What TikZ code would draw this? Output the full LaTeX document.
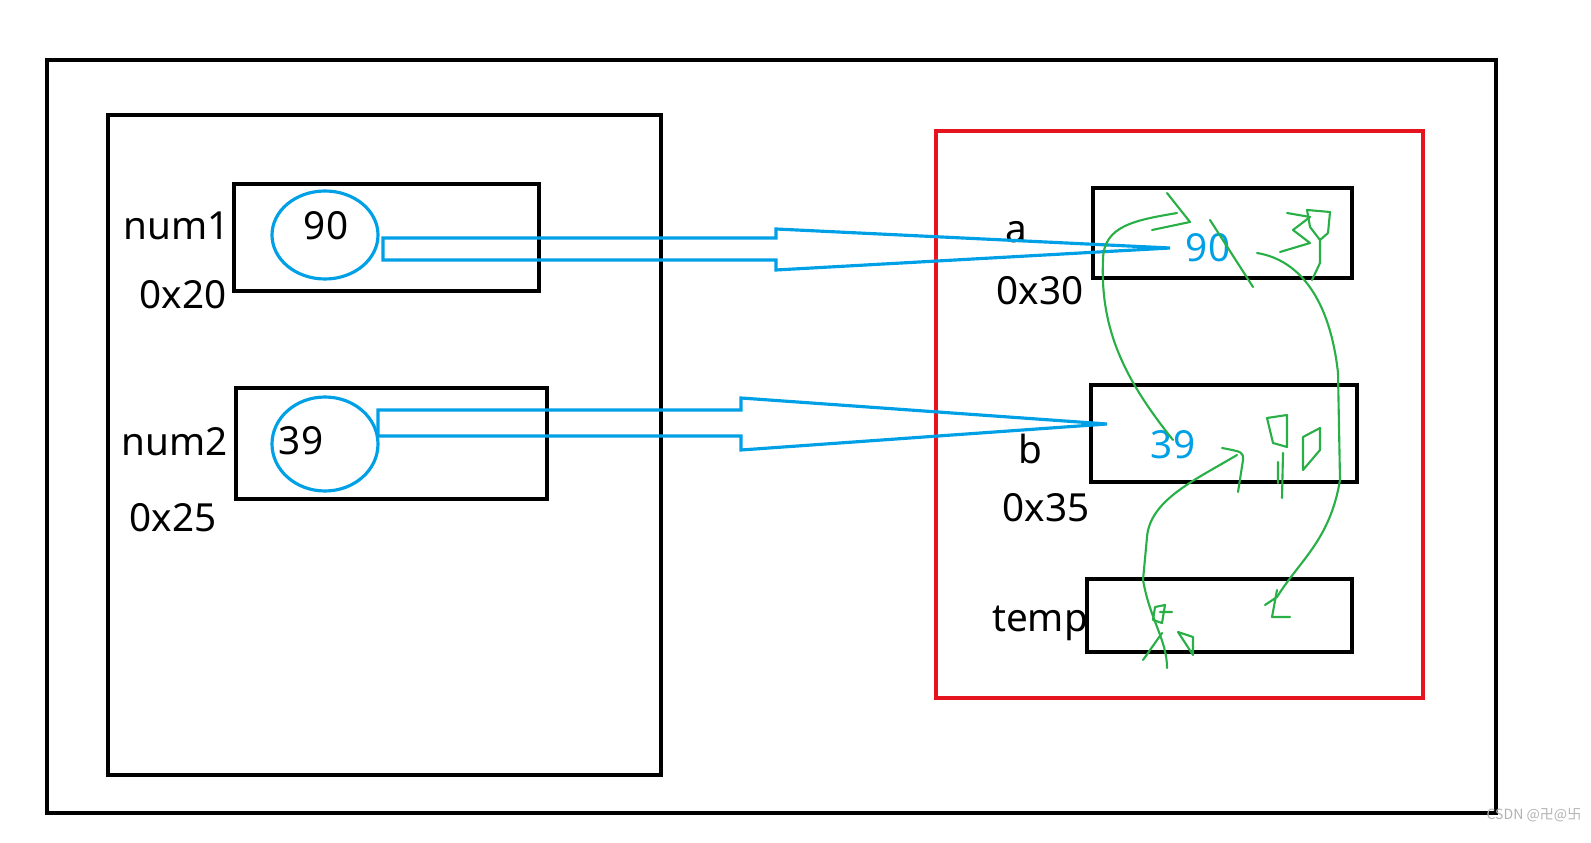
\documentclass[tikz,border=0pt]{standalone}
\usepackage{fontspec}
\setmainfont{Noto Sans}
\newfontfamily\cjk{Noto Sans CJK SC}
\begin{document}
\begin{tikzpicture}[x=0.01cm,y=-0.01cm,
  box/.style={draw=black,line width=1.15pt},
  lbl/.style={font=\fontsize{11}{13}\selectfont,inner sep=0pt},
  blu/.style={draw={rgb,255:red,0;green,160;blue,230},line width=0.9pt},
  grn/.style={draw={rgb,255:red,40;green,175;blue,70},line width=0.6pt,line cap=round,line join=round}]
\useasboundingbox (0,0) rectangle (1591,843);
\definecolor{myblue}{RGB}{0,160,230}
\coordinate (o1) at (47,60); \coordinate (o2) at (1496,813);
\draw[box] (o1) rectangle (o2);
\coordinate (lf1) at (108,115); \coordinate (lf2) at (661,775);
\draw[box] (lf1) rectangle (lf2);
\coordinate (r1) at (936,131); \coordinate (r2) at (1423,698);
\draw[draw={rgb,255:red,230;green,20;blue,30},line width=1.15pt] (r1) rectangle (r2);
\coordinate (n1a) at (234,184); \coordinate (n1b) at (539,291);
\draw[box] (n1a) rectangle (n1b);
\coordinate (n2a) at (236,388); \coordinate (n2b) at (547,499);
\draw[box] (n2a) rectangle (n2b);
\coordinate (baa) at (1093,188); \coordinate (bab) at (1352,278);
\draw[box] (baa) rectangle (bab);
\coordinate (bba) at (1091,385); \coordinate (bbb) at (1357,482);
\draw[box] (bba) rectangle (bbb);
\coordinate (bta) at (1087,579); \coordinate (btb) at (1352,652);
\draw[box] (bta) rectangle (btb);
\draw[blu] (325,235) ellipse [x radius=53,y radius=44];
\draw[blu] (325,444) ellipse [x radius=53,y radius=47];
\node[lbl] (v1) at (326,226) {90};
\node[lbl] (v2) at (301,441) {39};
\node[lbl] (l1) at (177,226) {num1};
\node[lbl] (l2) at (183,295) {0x20};
\node[lbl] (l3) at (175,442) {num2};
\node[lbl] (l4) at (173,518) {0x25};
\node[lbl] (l5) at (1016,232) {a};
\node[lbl] (l6) at (1040,291) {0x30};
\node[lbl] (l7) at (1030,449) {b};
\node[lbl] (l8) at (1046,508) {0x35};
\node[lbl] (l9) at (1040,623) {temp};
\node[lbl,text=myblue] (w1) at (1208,248) {90};
\node[lbl,text=myblue] (w2) at (1173,445) {39};
\draw[blu] (383,238) -- (776,238) -- (776,229) -- (1170,248) -- (776,270) -- (776,260) -- (383,260) -- cycle;
\draw[blu] (378,410) -- (741,410) -- (741,398) -- (1107,424) -- (741,450) -- (741,436) -- (378,436) -- cycle;
% green scribbles
\draw[grn] (1167,193) -- (1190,222) -- (1152,230);
\draw[grn] (1177,213) .. controls (1137,220) and (1103,225) .. (1103,260) .. controls (1100,330) and (1125,380) .. (1173,440);
\draw[grn] (1210,220) -- (1253,287);
\draw[grn] (1257,253) .. controls (1300,260) and (1330,300) .. (1338,373) -- (1340,480) .. controls (1330,540) and (1300,560) .. (1277,597);
\draw[grn] (1277,590) -- (1272,617) -- (1290,617) (1265,605) -- (1277,597);
\draw[grn] (1287,213) -- (1310,217) -- (1293,230) -- (1310,243) -- (1280,252);
\draw[grn] (1307,210) -- (1330,212) -- (1328,233) -- (1320,240) -- (1310,227) -- cycle (1320,240) -- (1320,263) -- (1312,280);
\draw[grn] (1222,448) .. controls (1243,452) .. (1243,460) -- (1238,492);
\draw[grn] (1237,455) .. controls (1195,480) and (1150,500) .. (1147,537) -- (1143,580) .. controls (1150,620) and (1167,640) .. (1167,668);
\draw[grn] (1155,607) -- (1165,605) -- (1162,623) -- (1153,620) -- cycle (1143,660) -- (1162,633) (1160,612) -- (1172,612);
\draw[grn] (1178,632) -- (1193,637) -- (1193,655) -- cycle;
\draw[grn] (1267,418) -- (1287,415) -- (1287,447) -- (1273,443) -- cycle (1283,453) -- (1282,498) (1278,462) -- (1278,483);
\draw[grn] (1303,437) -- (1320,428) -- (1320,450) -- (1303,470) -- cycle;
\node[font=\cjk\fontsize{4}{5}\selectfont,text=gray!60,anchor=east,inner sep=0pt] (wm) at (1582,815) {CSDN @卍@卐};
\end{tikzpicture}
\end{document}
